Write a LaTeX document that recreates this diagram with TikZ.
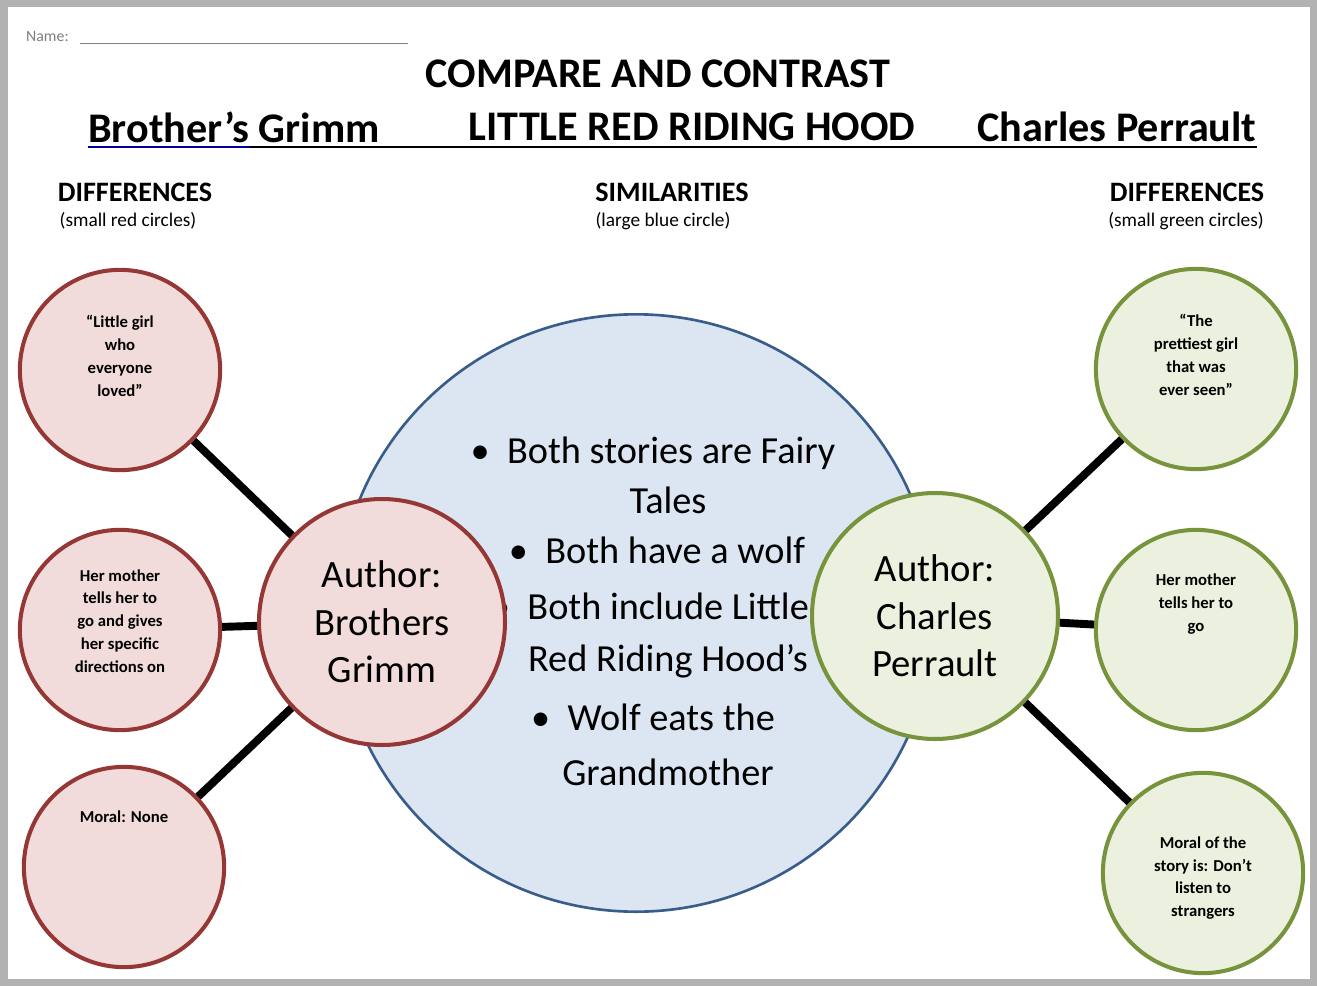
\documentclass[tikz,border=0pt]{standalone}
\usepackage{fontspec}
\setmainfont{Carlito}
\definecolor{redfill}{HTML}{F2DCDB}
\definecolor{redline}{HTML}{953735}
\definecolor{grnfill}{HTML}{EBF1DE}
\definecolor{grnline}{HTML}{77933C}
\definecolor{blufill}{HTML}{DCE6F2}
\definecolor{bluline}{HTML}{385D8A}
\tikzset{
 rc/.style={circle,draw=redline,fill=redfill,line width=2.3pt,minimum size=114pt,inner sep=0pt,align=center,font=\fontsize{9.5}{13}\selectfont\bfseries},
 gc/.style={rc,draw=grnline,fill=grnfill},
 ac/.style={circle,line width=2.3pt,minimum size=140pt,inner sep=0pt,align=center,font=\fontsize{22}{27}\selectfont},
 conn/.style={line width=4.5pt},
 bt/.style={font=\fontsize{21.8}{27}\selectfont},
 ctext/.style={font=\fontsize{9.5}{13}\selectfont\bfseries,align=center},
}
\begin{document}
\begin{tikzpicture}[x=0.02cm,y=-0.02cm]
\fill[gray!60] (0,0) rectangle (1317,986);
\fill[white] (8,7) rectangle (1310,979);
\useasboundingbox (0,0) rectangle (1317,986);
\node[anchor=west,text=gray,font=\fontsize{9}{10}\selectfont] (nm) at (20,36) {Name:};
\draw[gray,thin] (80,43) -- (408,43);
\node[font=\fontsize{24}{26}\selectfont\bfseries] (t1) at (658,74) {COMPARE AND CONTRAST};
\node[font=\fontsize{24}{26}\selectfont\bfseries] (t2) at (234,127) {Brother’s Grimm};
\node[font=\fontsize{24}{26}\selectfont\bfseries] (t3) at (692,127) {LITTLE RED RIDING HOOD};
\node[font=\fontsize{24}{26}\selectfont\bfseries] (t4) at (1117,127) {Charles Perrault};
\draw[line width=1pt] (250,147) -- (1257,147);
\draw[line width=1pt,blue!60!black] (88,147) -- (250,147);
\node[font=\fontsize{16}{18}\selectfont\bfseries] (d1) at (135,192) {DIFFERENCES};
\node[font=\fontsize{11}{12}\selectfont] (d1s) at (128,221) {(small red circles)};
\node[font=\fontsize{16}{18}\selectfont\bfseries] (s1) at (672,192) {SIMILARITIES};
\node[font=\fontsize{11}{12}\selectfont] (s1s) at (663,221) {(large blue circle)};
\node[font=\fontsize{16}{18}\selectfont\bfseries] (d2) at (1187,192) {DIFFERENCES};
\node[font=\fontsize{11}{12}\selectfont] (d2s) at (1186,221) {(small green circles)};
% big circle
\node[circle,draw=bluline,fill=blufill,line width=1.5pt,minimum size=340pt,inner sep=0pt] (big) at (636,613) {};
\node[bt] (b1) at (653,453) {\textbullet\ \ Both stories are Fairy};
\node[bt] (b2) at (668,500) {Tales};
\node[bt] (b3) at (657,550) {\textbullet\ \ Both have a wolf};
\node[bt] (b4) at (650,606) {\textbullet\ \ Both include Little};
\node[bt] (b5) at (668,661) {Red Riding Hood’s};
\node[bt] (b6) at (653,717) {\textbullet\ \ Wolf eats the};
\node[bt] (b7) at (668,772) {Grandmother};
% small circles
\node[rc] (r1) at (120,370) {};
\node[ctext] (r1t) at (120,356) {“Little girl\\who\\everyone\\loved”};
\node[rc] (r2) at (120,630) {};
\node[ctext] (r2t) at (120,621) {Her mother\\tells her to\\go and gives\\her specific\\directions on};
\node[rc] (r3) at (124,867) {};
\node[ctext] (r3t) at (124,817) {Moral: None};
\node[gc] (g1) at (1196,369) {};
\node[ctext] (g1t) at (1196,355) {“The\\prettiest girl\\that was\\ever seen”};
\node[gc] (g2) at (1196,630) {};
\node[ctext] (g2t) at (1196,604) {Her mother\\tells her to\\go};
\node[gc] (g3) at (1203,873) {};
\node[ctext] (g3t) at (1203,878) {Moral of the\\story is: Don't\\listen to\\strangers};
\node[ac,draw=redline,fill=redfill] (aa) at (382,622) {Author:\\Brothers\\Grimm};
\node[ac,draw=grnline,fill=grnfill] (ab) at (935,616) {Author:\\Charles\\Perrault};
\draw[conn] (r1) -- (aa);
\draw[conn] (r2) -- (aa);
\draw[conn] (r3) -- (aa);
\draw[conn] (g1) -- (ab);
\draw[conn] (g2) -- (ab);
\draw[conn] (g3) -- (ab);
\end{tikzpicture}
\end{document}
